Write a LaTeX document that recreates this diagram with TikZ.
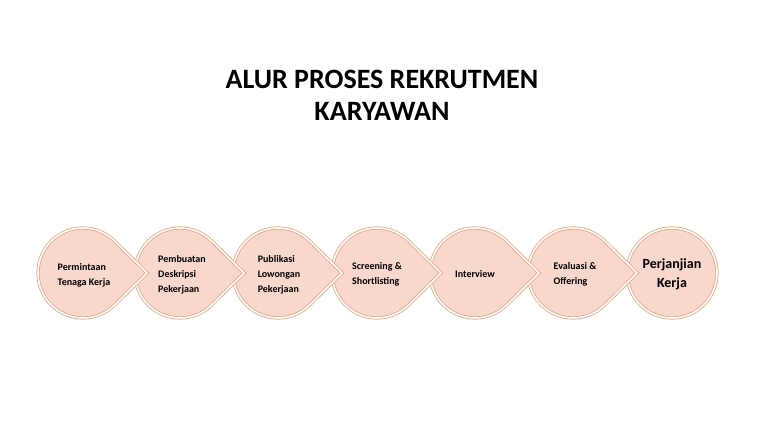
\documentclass[tikz,border=0pt]{standalone}
\usepackage{fontspec}
\setmainfont{Carlito}
\definecolor{pk}{HTML}{F8D7CD}
\definecolor{bd}{HTML}{E9A47F}
\begin{document}
\begin{tikzpicture}[x=1pt,y=1pt,
  lbl/.style={font=\bfseries\fontsize{10}{15}\selectfont,align=left,text=black},
  shp/.style={fill=pk,draw=bd,line width=0.8pt,double=white,double distance=1.6pt}]
\useasboundingbox (0,0) rectangle (768,433);
\node[font=\bfseries\fontsize{28}{32}\selectfont,align=center] (title) at (382,338) {ALUR PROSES REKRUTMEN\\KARYAWAN};
\def\r{45pt}
\draw[shp] (672,160) circle[radius=\r];
\foreach \cx in {573,475,377,278,180,83}{
  \draw[shp] (\cx,160) ++(45:\r) arc[start angle=45,end angle=315,radius=\r] -- (\cx+64,160) -- cycle;
}
\node[lbl] (n1) at (84,158) {Permintaan\\Tenaga Kerja};
\node[lbl] (n2) at (182,158) {Pembuatan\\Deskripsi\\Pekerjaan};
\node[lbl] (n3) at (279,158) {Publikasi\\Lowongan\\Pekerjaan};
\node[lbl] (n4) at (377,159) {Screening \&\\Shortlisting};
\node[lbl] (n5) at (475,159) {Interview};
\node[lbl] (n6) at (575,159) {Evaluasi \&\\Offering};
\node[font=\bfseries\fontsize{14}{19}\selectfont,align=center] (n7) at (672,159) {Perjanjian\\Kerja};
\end{tikzpicture}
\end{document}
